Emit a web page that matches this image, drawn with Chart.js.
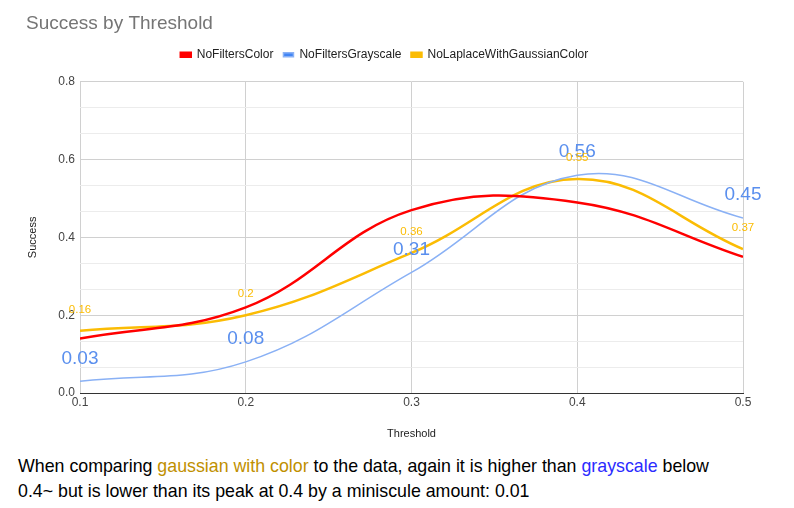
<!DOCTYPE html>
<html>
<head>
    <meta charset="utf-8" />
    <title>Success by Threshold</title>
    <script src="https://cdn.jsdelivr.net/npm/chart.js"></script>
    <style>
        body { margin: 0; background: #fff; font-family: "Liberation Sans", Arial, sans-serif; }
        .chart-container { position: relative; width: 794px; height: 445px; }
        p.note { margin: 9px 0 0 18px; font-size: 17.8px; line-height: 25px; color: #000; }
        .gold { color: #bf9000; }
        .blue { color: #2b2bff; }
    </style>
</head>
<body>
    <div class="chart-container">
        <canvas id="lineChart"></canvas>
    </div>
    <p class="note">When comparing <span class="gold">gaussian with color</span> to the data, again it is higher than <span class="blue">grayscale</span> below<br/>0.4~ but is lower than its peak at 0.4 by a miniscule amount: 0.01</p>

    <script>
        // 데이터
        const thresholds = [0.1, 0.2, 0.3, 0.4, 0.5];
        const noFiltersColor = [0.14, 0.22, 0.47, 0.49, 0.35];
        const noFiltersGrayscale = [0.03, 0.08, 0.31, 0.56, 0.45];
        const noLaplaceGaussianColor = [0.16, 0.2, 0.36, 0.55, 0.37];
        const seriesNames = ['NoFiltersColor', 'NoFiltersGrayscale', 'NoLaplaceWithGaussianColor'];

        const toPoints = (vals) => vals.map((v, i) => ({ x: thresholds[i], y: v }));

        // 범례 아래 여백
        const legendGap = {
            id: 'legendGap',
            beforeInit(chart) {
                const fit = chart.legend.fit;
                chart.legend.fit = function () {
                    fit.call(this);
                    this.height += 11;
                };
            }
        };

        // 데이터 라벨 그리기
        const pointLabels = {
            id: 'pointLabels',
            afterDatasetsDraw(chart) {
                const ctx = chart.ctx;
                chart.data.datasets.forEach((ds, i) => {
                    if (!ds.labelFont) return;
                    const meta = chart.getDatasetMeta(i);
                    ctx.save();
                    ctx.font = ds.labelFont;
                    ctx.fillStyle = ds.labelColor;
                    ctx.textAlign = 'center';
                    ctx.textBaseline = 'middle';
                    meta.data.forEach((pt, j) => {
                        ctx.fillText(String(ds.data[j].y), pt.x, pt.y - ds.labelOffset);
                    });
                    ctx.restore();
                });
            }
        };

        const lineCtx = document.getElementById('lineChart').getContext('2d');
        const lineChart = new Chart(lineCtx, {
            type: 'line',
            data: {
                datasets: [{
                    label: seriesNames[0],
                    data: toPoints(noFiltersColor),
                    borderColor: '#ff0000',
                    backgroundColor: '#ff0000',
                    borderWidth: 2.5
                }, {
                    label: seriesNames[1],
                    data: toPoints(noFiltersGrayscale),
                    borderColor: '#8ab1f5',
                    backgroundColor: '#4285f4',
                    borderWidth: 1.5,
                    labelFont: '19px "Liberation Sans", Arial',
                    labelColor: '#5a8fee',
                    labelOffset: 23
                }, {
                    label: seriesNames[2],
                    data: toPoints(noLaplaceGaussianColor),
                    borderColor: '#fbbc04',
                    backgroundColor: '#fbbc04',
                    borderWidth: 2.5,
                    labelFont: '11.5px "Liberation Sans", Arial',
                    labelColor: '#fbbc04',
                    labelOffset: 21
                }]
            },
            options: {
                responsive: true,
                maintainAspectRatio: false,
                animation: false,
                elements: { point: { radius: 0 }, line: { tension: 0.4 } },
                layout: { padding: { left: 26, right: 51, top: 12, bottom: 0 } },
                plugins: {
                    tooltip: { enabled: false },
                    title: {
                        display: true,
                        text: 'Success by Threshold',
                        align: 'start',
                        color: '#757575',
                        font: { family: '"Liberation Sans", Arial', size: 19, weight: 'normal' },
                        padding: { top: 0, bottom: 4 }
                    },
                    legend: {
                        position: 'top',
                        labels: {
                            boxWidth: 10,
                            boxHeight: 4,
                            color: '#222',
                            font: { family: '"Liberation Sans", Arial', size: 12 },
                            padding: 10
                        }
                    }
                },
                scales: {
                    x: {
                        type: 'linear',
                        min: 0.1,
                        max: 0.5,
                        ticks: { stepSize: 0.1, color: '#444', font: { size: 12 }, padding: 2 },
                        grid: { color: '#d0d0d0', drawTicks: false },
                        border: { color: '#333' },
                        title: { display: true, text: 'Threshold', color: '#222', font: { size: 11 }, padding: { top: 13 } },
                        afterFit: (scale) => { scale.height = 52; }
                    },
                    y: {
                        min: 0,
                        max: 0.8,
                        ticks: {
                            stepSize: 0.2 / 3,
                            color: '#444',
                            font: { size: 12 },
                            padding: 5,
                            callback: (v, i) => (i % 3 === 0 ? (i * 0.2 / 3).toFixed(1) : '')
                        },
                        grid: {
                            drawTicks: false,
                            color: (c) => (c.index % 3 === 0 ? '#d0d0d0' : '#ececec')
                        },
                        border: { display: false },
                        title: { display: true, text: 'Success', color: '#222', font: { size: 11 }, padding: { top: 0, bottom: 16 } },
                        afterFit: (scale) => { scale.width = 54; }
                    }
                }
            },
            plugins: [legendGap, pointLabels]
        });
    </script>
</body>
</html>
